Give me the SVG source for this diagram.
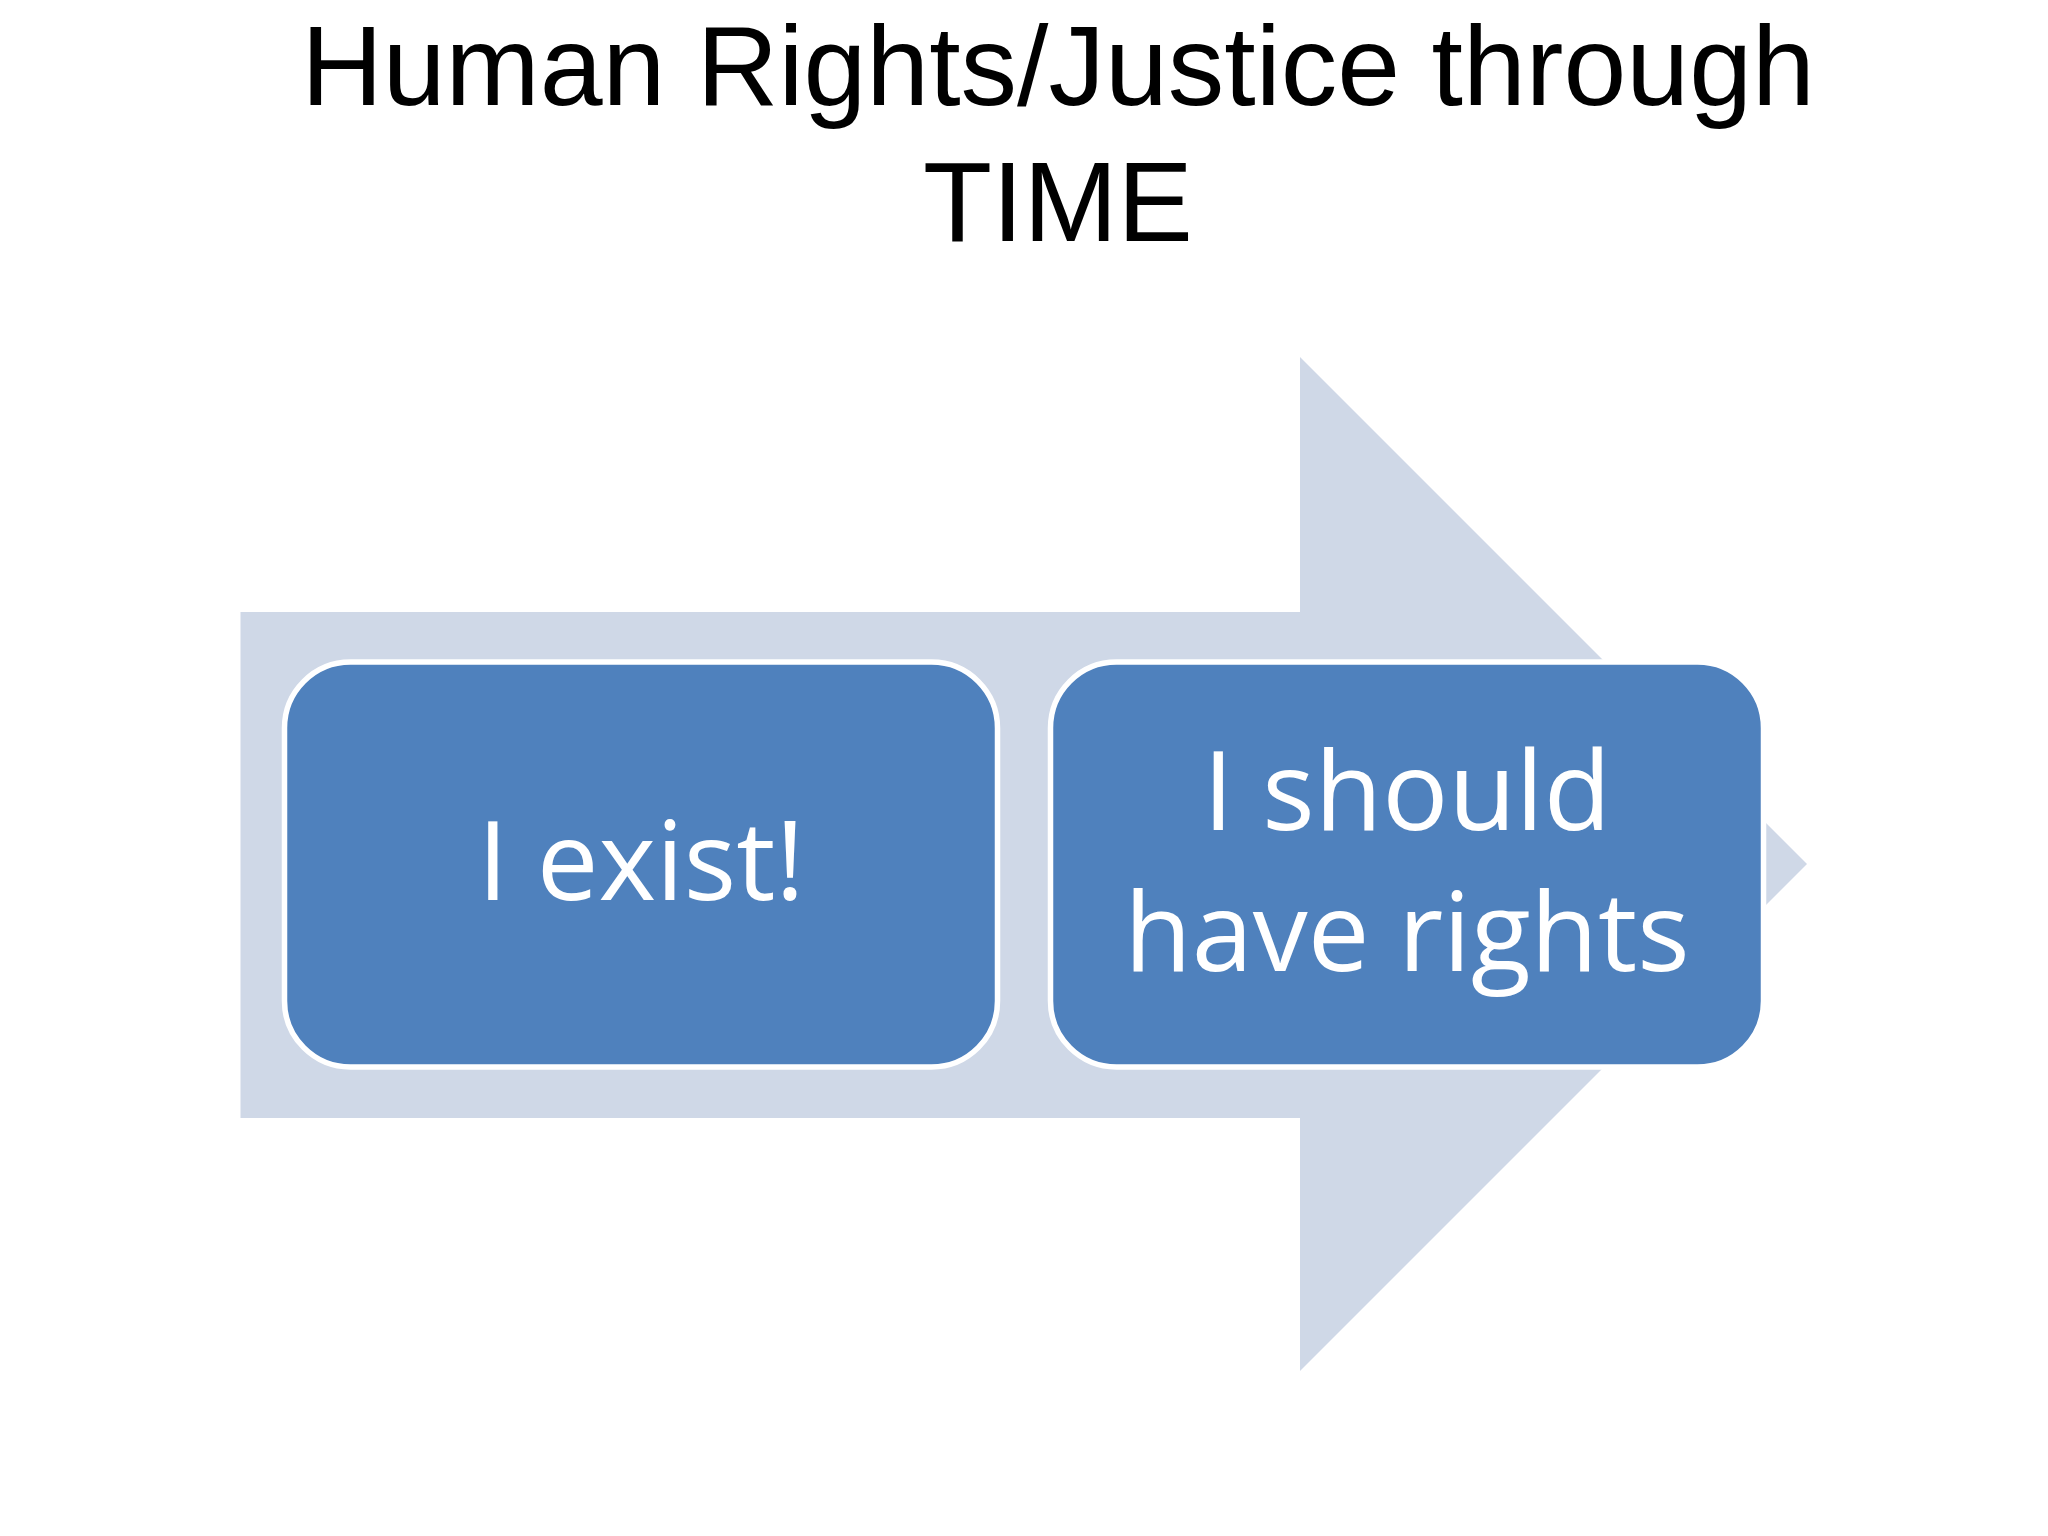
<svg xmlns="http://www.w3.org/2000/svg" width="2048" height="1536" viewBox="0 0 2048 1536">
  <style>
    .title { font-family: "Liberation Sans", Arial, sans-serif; font-size: 113px; fill: #000000; text-anchor: middle; }
    .box { fill: #4F81BD; stroke: #FFFFFF; stroke-width: 5.5; }
    .label { font-family: "Open Sans", "Noto Sans", sans-serif; font-size: 110px; fill: #FFFFFF; text-anchor: middle; }
    .arrow { fill: #CFD8E7; }
  </style>
  <rect x="0" y="0" width="2048" height="1536" fill="#FFFFFF"/>
  <g id="title">
    <text class="title" x="1058" y="105">Human Rights/Justice through</text>
    <text class="title" x="1058" y="241">TIME</text>
  </g>
  <g id="timeline-arrow">
    <polygon class="arrow" points="240.5,612 1300,612 1300,357 1807,864 1300,1371 1300,1118 240.5,1118"/>
  </g>
  <g id="node-exist">
    <rect class="box" x="284.5" y="662" width="713" height="405" rx="66" ry="66"/>
    <text class="label" x="641" y="900">I exist!</text>
  </g>
  <g id="node-rights">
    <rect class="box" x="1050.5" y="662" width="713" height="405" rx="66" ry="66"/>
    <text class="label" x="1407" y="830">I should</text>
    <text class="label" x="1407" y="971">have rights</text>
  </g>
</svg>
